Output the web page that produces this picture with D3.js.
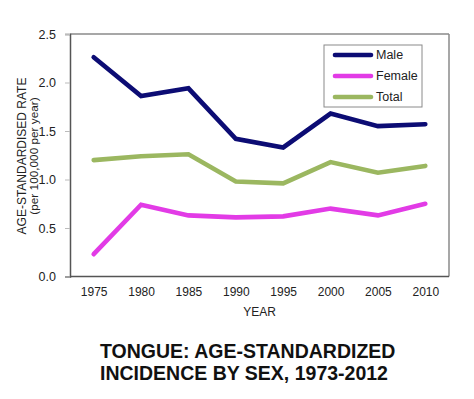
<!DOCTYPE html>
<html>
<head>
<meta charset="utf-8">
<script src="https://cdn.jsdelivr.net/npm/d3@7"></script>
<style>
	body { margin: 0; background: #fff; }
	svg { display: block; font-family: "Liberation Sans", Arial, sans-serif; }
</style>
</head>
<body>
<svg width="474" height="399"></svg>
<script>
const years = ['1975', '1980', '1985', '1990', '1995', '2000', '2005', '2010'];
const male = [2.26, 1.86, 1.94, 1.42, 1.33, 1.68, 1.55, 1.57];
const female = [0.23, 0.74, 0.63, 0.61, 0.62, 0.70, 0.63, 0.75];
const total = [1.20, 1.24, 1.26, 0.98, 0.96, 1.18, 1.07, 1.14];
const yTicks = [0, 0.5, 1.0, 1.5, 2.0, 2.5];

const series = [
	{ name: 'Male', values: male, color: '#0c0c74' },
	{ name: 'Female', values: female, color: '#e23be6' },
	{ name: 'Total', values: total, color: '#9bb760' }
];

var svg = d3.select('svg');
var plotL = 70, plotR = 449, plotT = 34, plotB = 276.5;

var x = d3.scalePoint().domain(years).range([plotL, plotR]).padding(0.5);
var y = d3.scaleLinear().domain([0, 2.5]).range([plotB, plotT]);

// plot frame: top/right lighter
svg.append('line').attr('x1', plotL).attr('x2', plotR).attr('y1', plotT).attr('y2', plotT)
	.attr('stroke', '#8a8a8a').attr('stroke-width', 1.5);
svg.append('line').attr('x1', plotR).attr('x2', plotR).attr('y1', plotT).attr('y2', plotB)
	.attr('stroke', '#8a8a8a').attr('stroke-width', 1.5);

var yAxis = svg.append('g')
	.attr('transform', 'translate(' + plotL + ',0)')
	.call(d3.axisLeft(y).tickValues(yTicks).tickFormat(d3.format('.1f')).tickSize(5).tickPadding(9));
yAxis.select('.domain').attr('stroke', '#555').attr('stroke-width', 1.5);
yAxis.selectAll('.tick line').attr('stroke', '#bbb');
yAxis.selectAll('.tick text').attr('font-size', 12.5).attr('fill', '#222');
yAxis.attr('font-family', null);

var xAxis = svg.append('g')
	.attr('transform', 'translate(0,' + plotB + ')')
	.call(d3.axisBottom(x).tickSize(0).tickPadding(11));
xAxis.select('.domain').attr('stroke', '#555').attr('stroke-width', 1.5)
	.attr('d', 'M' + plotL + ',0H' + plotR);
xAxis.selectAll('.tick text').attr('font-size', 12).attr('fill', '#222');
xAxis.attr('font-family', null);

// axis titles
svg.append('text').attr('x', (plotL + plotR) / 2).attr('y', 316)
	.attr('text-anchor', 'middle')
	.attr('font-size', 12).attr('fill', '#222').text('YEAR');

var yt = svg.append('text').attr('transform', 'translate(26,156) rotate(-90)')
	.attr('text-anchor', 'middle').attr('font-size', 12).attr('fill', '#222');
yt.append('tspan').attr('x', 0).attr('y', 0).text('AGE-STANDARDISED RATE');
yt.append('tspan').attr('x', 0).attr('y', 11.5).attr('font-size', 11.8).text('(per 100,000 per year)');

// lines
var line = d3.line()
	.x(function(d, i) { return x(years[i]); })
	.y(function(d) { return y(d); });

svg.append('g').selectAll('path')
	.data(series.slice().reverse())
	.enter().append('path')
	.attr('d', function(d) { return line(d.values); })
	.attr('fill', 'none')
	.attr('stroke', function(d) { return d.color; })
	.attr('stroke-width', 4.6)
	.attr('stroke-linecap', 'round');

// legend
var legend = svg.append('g');
legend.append('rect').attr('x', 324).attr('y', 45).attr('width', 98).attr('height', 62)
	.attr('fill', '#fff').attr('stroke', '#8a8a8a').attr('stroke-width', 1);
var item = legend.selectAll('g.item')
	.data(series)
	.enter().append('g')
	.attr('class', 'item')
	.attr('transform', function(d, i) { return 'translate(0,' + (55 + i * 21) + ')'; });
item.append('line').attr('x1', 335).attr('x2', 371).attr('y1', 0).attr('y2', 0)
	.attr('stroke', function(d) { return d.color; }).attr('stroke-width', 4.6)
	.attr('stroke-linecap', 'round');
item.append('text').attr('x', 376).attr('y', 4.3).attr('font-size', 12.5).attr('fill', '#222')
	.text(function(d) { return d.name; });

// title
var title = svg.append('text').attr('font-size', 19.5).attr('font-weight', 'bold').attr('fill', '#111');
title.append('tspan').attr('x', 100).attr('y', 358).text('TONGUE: AGE-STANDARDIZED');
title.append('tspan').attr('x', 100).attr('y', 380).text('INCIDENCE BY SEX, 1973-2012');
</script>
</body>
</html>
